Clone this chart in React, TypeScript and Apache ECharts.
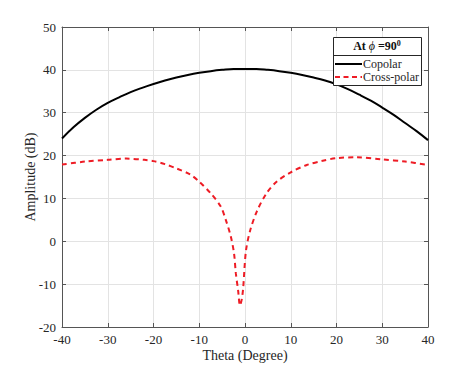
import React, { useEffect, useRef } from "react";
import * as echarts from "echarts";

const coTheta = [-40, -37.5, -35, -32.5, -30, -27.5, -25, -22.5, -20, -17.5, -15, -12.5, -10, -7.5, -5, -2.5, 0, 2.5, 5, 7.5, 10, 12.5, 15, 17.5, 20, 22.5, 25, 27.5, 30, 32.5, 35, 37.5, 40];
const coValues = [24.0, 26.6, 28.8, 30.7, 32.3, 33.6, 34.8, 35.8, 36.7, 37.5, 38.2, 38.8, 39.3, 39.7, 40.0, 40.2, 40.2, 40.2, 40.0, 39.7, 39.3, 38.8, 38.2, 37.5, 36.6, 35.5, 34.2, 32.8, 31.2, 29.5, 27.6, 25.7, 23.6];

const xTheta = [-40, -35, -30, -26, -22, -20, -17.5, -15, -12, -10, -7.5, -5.3, -4.2, -3.1, -2.4, -2.0, -1.5, -1.1, -0.7, -0.4, 0.2, 1.1, 2.6, 4.7, 6.9, 10, 13.5, 17, 20, 24.4, 30, 35, 40];
const xValues = [17.9, 18.6, 19.0, 19.3, 19.0, 18.7, 18.0, 17.0, 15.6, 13.9, 11.2, 8.1, 5.0, 1.1, -2.8, -7.5, -11.5, -15.0, -13.5, -10.9, -2.3, 2.4, 7.0, 11.2, 13.9, 16.1, 17.8, 18.8, 19.4, 19.6, 19.1, 18.6, 17.8];

const xTicks = [-40, -30, -20, -10, 0, 10, 20, 30, 40];
const yTicks = [-20, -10, 0, 10, 20, 30, 40, 50];

const seriesNames = ["Copolar", "Cross-polar"];
const seriesColors = ["#000000", "#ee1c25"];

const FONT = "'Liberation Serif', 'Times New Roman', serif";

export default function App() {
  const ref = useRef<HTMLDivElement>(null);
  useEffect(() => {
    if (!ref.current) return;
    const chart = echarts.init(ref.current, null, { renderer: "svg" });
    const axisCommon = {
      axisLine: { show: true, onZero: false, lineStyle: { color: "#555", width: 1 } },
      axisTick: { show: true, inside: true, length: 4, lineStyle: { color: "#555" } },
    };
    const lx = 334;
    const rowY = [64, 77];
    chart.setOption({
      animation: false,
      backgroundColor: "#fff",
      grid: { left: 62, right: 46, top: 27, bottom: 41, containLabel: false },
      xAxis: [
        {
          type: "value",
          min: xTicks[0],
          max: xTicks[xTicks.length - 1],
          interval: 10,
          position: "bottom",
          ...axisCommon,
          axisLabel: { color: "#262626", fontFamily: FONT, fontSize: 13, margin: 6 },
          splitLine: { show: true, lineStyle: { color: "#e3e3e3", width: 1 } },
          name: "Theta (Degree)",
          nameLocation: "middle",
          nameGap: 21,
          nameMoveOverlap: false,
          nameTextStyle: { color: "#262626", fontFamily: FONT, fontSize: 14 },
        },
        {
          type: "value",
          min: xTicks[0],
          max: xTicks[xTicks.length - 1],
          interval: 10,
          position: "top",
          ...axisCommon,
          axisLabel: { show: false },
          splitLine: { show: false },
        },
      ],
      yAxis: [
        {
          type: "value",
          min: yTicks[0],
          max: yTicks[yTicks.length - 1],
          interval: 10,
          position: "left",
          ...axisCommon,
          axisLabel: { color: "#262626", fontFamily: FONT, fontSize: 13, margin: 6 },
          splitLine: { show: true, lineStyle: { color: "#e3e3e3", width: 1 } },
          name: "Amplitude (dB)",
          nameLocation: "middle",
          nameGap: 25,
          nameMoveOverlap: false,
          nameTextStyle: { color: "#262626", fontFamily: FONT, fontSize: 14 },
        },
        {
          type: "value",
          min: yTicks[0],
          max: yTicks[yTicks.length - 1],
          interval: 10,
          position: "right",
          ...axisCommon,
          axisLabel: { show: false },
          splitLine: { show: false },
        },
      ],
      graphic: [
        {
          type: "rect",
          shape: { x: 333.5, y: 37.5, width: 88, height: 48 },
          style: { fill: "#fff", stroke: "#262626", lineWidth: 1 },
          z: 10,
        },
        {
          type: "line",
          shape: { x1: 333.5, y1: 55.5, x2: 421.5, y2: 55.5 },
          style: { stroke: "#262626", lineWidth: 1 },
          z: 11,
        },
        {
          type: "text",
          x: 377,
          y: 46,
          z: 11,
          style: {
            text: "{b|At }{i|ϕ}{b| =90}{s|0}",
            align: "center",
            verticalAlign: "middle",
            rich: {
              b: { fill: "#111", font: `bold 12px ${FONT}`, lineHeight: 14 },
              i: { fill: "#111", font: `italic 12px ${FONT}`, lineHeight: 14 },
              s: { fill: "#111", font: `bold 8px ${FONT}`, lineHeight: 14, verticalAlign: "top" },
            },
          },
        },
        ...seriesNames.flatMap((name, i) => [
          {
            type: "line",
            z: 11,
            shape: { x1: lx + 1, y1: rowY[i], x2: lx + 28, y2: rowY[i] },
            style: {
              stroke: seriesColors[i],
              lineWidth: 2,
              lineDash: i === 1 ? [5, 3.5] : null,
            },
          },
          {
            type: "text",
            z: 11,
            x: lx + 29,
            y: rowY[i],
            style: {
              text: name,
              fill: "#262626",
              font: `12px ${FONT}`,
              align: "left",
              verticalAlign: "middle",
            },
          },
        ]),
      ],
      series: [
        {
          name: seriesNames[0],
          type: "line",
          data: coTheta.map((t, i) => [t, coValues[i]]),
          smooth: 0.4,
          showSymbol: false,
          symbol: "none",
          lineStyle: { color: seriesColors[0], width: 2 },
          itemStyle: { color: seriesColors[0] },
          z: 3,
        },
        {
          name: seriesNames[1],
          type: "line",
          data: xTheta.map((t, i) => [t, xValues[i]]),
          smooth: 0.3,
          showSymbol: false,
          symbol: "none",
          lineStyle: { color: seriesColors[1], width: 2, type: [5, 4] },
          itemStyle: { color: seriesColors[1] },
          z: 3,
        },
      ],
    });
    return () => chart.dispose();
  }, []);
  return (
    <div
      ref={ref}
      style={{ position: "fixed", left: 0, top: 0, width: 474, height: 368 }}
    />
  );
}
